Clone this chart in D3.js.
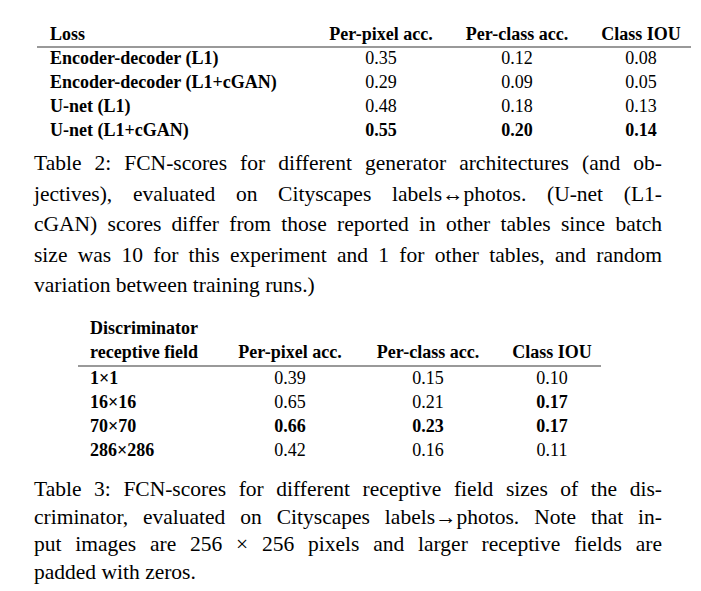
<!DOCTYPE html>
<html><head><meta charset="utf-8">
<script src="https://cdn.jsdelivr.net/npm/d3@7"></script>
<style>body{margin:0;background:#fff} svg text{font-family:"Liberation Serif","Times New Roman",Tinos,serif}</style>
</head><body>
<div id="page"></div>
<script>
// table 2 data
let t2Header = ["Loss", "Per-pixel acc.", "Per-class acc.", "Class IOU"];
let t2Rows = ["Encoder-decoder (L1)", "Encoder-decoder (L1+cGAN)", "U-net (L1)", "U-net (L1+cGAN)"];
let t2Pixel = [0.35, 0.29, 0.48, 0.55];
let t2Class = [0.12, 0.09, 0.18, 0.20];
let t2Iou = [0.08, 0.05, 0.13, 0.14];
let t2Bold = [[false,false,false],[false,false,false],[false,false,false],[true,true,true]];

// table 3 data
let t3Header = ["Per-pixel acc.", "Per-class acc.", "Class IOU"];
let t3Rows = ["1×1", "16×16", "70×70", "286×286"];
let t3Pixel = [0.39, 0.65, 0.66, 0.42];
let t3Class = [0.15, 0.21, 0.23, 0.16];
let t3Iou = [0.10, 0.17, 0.17, 0.11];
let t3Bold = [[false,false,false],[false,false,true],[true,true,true],[false,false,false]];

let cap2 = [
  "Table 2: FCN-scores for different generator architectures (and ob-",
  "jectives), evaluated on Cityscapes labels↔photos.  (U-net (L1-",
  "cGAN) scores differ from those reported in other tables since batch",
  "size was 10 for this experiment and 1 for other tables, and random",
  "variation between training runs.)"
];
let cap3 = [
  "Table 3: FCN-scores for different receptive field sizes of the dis-",
  "criminator, evaluated on Cityscapes labels→photos. Note that in-",
  "put images are 256 × 256 pixels and larger receptive fields are",
  "padded with zeros."
];

let width = 701, height = 591;
let svg = d3.select("#page").append("svg")
    .attr("width", width).attr("height", height);

function fmt(v){ return v.toFixed(2); }

function drawTable(g, rowY, labels, cols, bold, colX){
  let ys = d3.scaleOrdinal().domain(labels).range(rowY);
  g.selectAll("text.lab").data(labels).enter().append("text")
    .attr("x", 50).attr("y", d => ys(d))
    .style("font-weight", "bold").style("font-size", "18px")
    .text(d => d);
  cols.forEach(function(col, c){
    g.selectAll("text.c" + c).data(col).enter().append("text")
      .attr("x", colX[c]).attr("y", (d, i) => rowY[i])
      .attr("text-anchor", "middle")
      .style("font-size", "18px")
      .style("font-weight", (d, i) => bold[i][c] ? "bold" : "normal")
      .text(fmt);
  });
}

// table 2
let g2 = svg.append("g");
let col2 = [381, 517, 641];
g2.append("text").attr("x", 50).attr("y", 40).style("font-weight","bold").style("font-size","18px").text(t2Header[0]);
t2Header.slice(1).forEach((h, i) => g2.append("text").attr("x", col2[i]).attr("y", 40)
  .attr("text-anchor","middle").style("font-weight","bold").style("font-size","18px").text(h));
g2.append("line").attr("x1", 37).attr("x2", 691).attr("y1", 47).attr("y2", 47)
  .attr("stroke", "#777").attr("stroke-width", 1.3);
drawTable(g2, [64, 88, 112, 136], t2Rows, [t2Pixel, t2Class, t2Iou], t2Bold, col2);

// table 3
let g3 = svg.append("g").attr("transform", "translate(40,0)");
let col3 = [250, 388, 512];
g3.append("text").attr("x", 50).attr("y", 334).style("font-weight","bold").style("font-size","18px").text("Discriminator");
g3.append("text").attr("x", 50).attr("y", 358).style("font-weight","bold").style("font-size","18px").text("receptive field");
t3Header.forEach((h, i) => g3.append("text").attr("x", col3[i]).attr("y", 358)
  .attr("text-anchor","middle").style("font-weight","bold").style("font-size","18px").text(h));
g3.append("line").attr("x1", 38).attr("x2", 561).attr("y1", 366).attr("y2", 366)
  .attr("stroke", "#777").attr("stroke-width", 1.3);
drawTable(g3, [384, 408, 432, 456], t3Rows, [t3Pixel, t3Class, t3Iou], t3Bold, col3);

// justified captions
function caption(lines, y0, step){
  let x0 = 34, x1 = 662;
  lines.forEach(function(line, li){
    let words = line.split(/\s+/);
    let y = y0 + li * step;
    let last = li === lines.length - 1;
    let nodes = words.map(w => svg.append("text").attr("y", y)
      .style("font-size", "21.5px").text(w));
    let widths = nodes.map(n => n.node().getComputedTextLength());
    let total = d3.sum(widths);
    let gap = last ? 5.4 : (x1 - x0 - total) / (words.length - 1);
    let x = x0;
    nodes.forEach((n, i) => { n.attr("x", x); x += widths[i] + gap; });
  });
}
caption(cap2, 170, 30.5);
caption(cap3, 496, 27.5);
</script>
</body></html>
